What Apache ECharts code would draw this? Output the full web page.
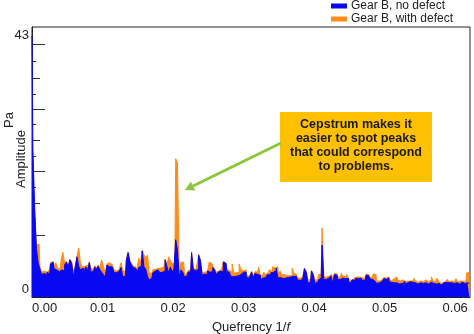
<!DOCTYPE html>
<html>
<head>
<meta charset="utf-8">
<script src="https://cdn.jsdelivr.net/npm/echarts@6/dist/echarts.min.js"></script>
<style>html,body{margin:0;padding:0;background:#fff}#c{width:474px;height:334px}</style>
</head>
<body>
<div id="c"></div>
<script>
// Quefrency bins (s), step 0.00025 starting at 0
const binStep = 0.00025;
// Gear B, no defect (Pa)
const noDefect = [
43,24,14,7,4.6,3.5,2.6,2.8,2.5,3.0,2.7,4.4,4.7,3.6,3.4,3.1,3.3,3.4,3.2,4.2,
4.7,3.9,5.1,4.5,2.2,3.8,5.6,4.0,3.4,3.7,3.2,3.9,3.3,4.6,3.0,3.2,3.9,3.5,4.0,3.4,
3.0,2.6,2.2,4.2,3.9,3.9,3.6,3.0,2.9,3.2,3.1,3.8,2.2,2.4,5.0,6.3,4.8,4.2,3.8,3.6,
2.9,3.8,4.0,6.6,3.9,3.5,2.3,1.7,2.0,2.9,3.2,3.4,3.3,2.9,3.0,3.2,5.1,4.0,2.9,3.9,
3.0,3.6,8.5,6.8,2.2,3.4,3.0,2.2,2.4,3.0,3.1,6.3,3.4,3.3,3.5,5.9,5.0,2.5,2.7,2.6,
3.2,3.0,3.1,3.8,3.4,2.6,3.0,3.2,3.1,4.7,4.5,3.1,3.0,2.4,2.2,2.3,2.5,2.4,2.6,2.9,
3.0,3.0,2.4,1.9,2.3,3.0,2.0,2.8,2.6,2.5,1.7,2.0,2.1,2.3,2.6,2.5,2.9,3.0,3.3,3.7,
2.0,2.1,1.9,1.7,2.0,2.1,2.3,2.2,2.3,2.4,2.3,1.7,1.6,1.8,1.7,3.6,3.0,1.2,1.3,3.2,
2.5,1.1,1.3,1.7,2.0,7.6,1.7,1.8,2.0,2.1,2.4,1.2,2.6,2.5,1.7,1.8,2.0,2.0,1.9,2.0,
1.3,1.3,1.7,1.6,2.0,1.9,2.0,1.8,1.6,1.7,2.5,2.4,1.9,1.8,1.5,1.6,1.1,1.2,1.4,1.5,
1.9,1.8,2.0,1.4,1.3,1.2,1.3,1.2,1.0,1.3,1.1,1.4,1.0,1.2,1.4,1.1,1.3,1.2,1.4,1.0,
1.2,1.3,1.1,1.2,1.3,1.0,1.3,1.4,1.1,1.0,1.3,1.1,0.8,0.9,1.2,1.3,1.2,1.0,1.2,1.1,
1.3,1.2,1.0,1.2,1.3,1.1,1.0,1.2,1.1
];
// Gear B, with defect (Pa)
const withDefect = [
28,20,12,7.5,7.8,4.0,3.0,3.2,3.0,3.3,3.4,4.6,4.8,4.0,4.6,3.6,3.6,5.0,6.4,4.5,
4.9,4.2,5.2,4.7,3.0,4.0,5.7,7.1,4.5,3.9,4.0,4.2,3.7,4.8,3.6,3.5,4.1,3.7,4.2,3.8,
5.1,4.0,2.8,4.4,4.6,4.3,4.3,3.4,3.2,3.5,3.6,4.6,3.3,3.0,5.2,6.4,5.0,4.4,4.0,3.9,
3.3,5.4,4.5,6.7,5.9,5.5,5.9,2.9,2.8,3.4,3.5,3.6,3.6,3.7,3.8,3.4,5.2,4.3,5.6,5.0,
4.4,4.6,22.2,21.5,2.8,4.7,4.7,2.6,2.9,3.3,3.4,6.4,3.6,3.5,4.2,6.0,5.1,2.9,3.0,3.1,
3.4,4.7,4.5,4.0,3.6,3.0,3.2,3.5,3.6,4.8,4.6,3.5,3.3,3.0,4.4,2.8,2.9,3.0,4.4,3.4,
3.2,3.4,2.8,2.3,2.6,3.2,2.4,3.1,3.0,3.9,2.4,2.6,3.0,2.6,2.9,3.4,3.1,3.9,3.7,3.9,
3.0,3.1,2.5,2.6,2.4,2.2,2.4,2.4,3.7,2.8,2.6,2.0,2.0,2.1,1.9,3.7,3.2,1.6,1.9,3.3,
2.8,1.6,1.8,2.6,2.7,10.5,2.2,2.2,2.3,2.4,2.6,1.7,2.8,2.7,2.1,2.3,2.8,2.3,2.2,2.6,
1.8,1.6,1.9,2.1,2.2,2.2,2.2,2.1,1.9,2.0,2.7,2.6,2.2,2.0,2.7,2.6,1.5,1.5,1.7,1.8,
2.1,2.0,2.2,1.7,1.6,1.9,2.1,2.2,1.6,1.5,1.7,1.6,1.4,1.5,1.7,1.5,1.6,2.0,1.6,1.3,
1.5,1.6,1.4,1.7,1.5,1.4,1.7,2.2,1.5,1.4,2.0,1.6,1.1,1.2,1.4,1.5,1.8,1.4,1.5,1.4,
1.6,1.9,1.3,1.5,1.5,1.4,1.3,2.9,2.9
];
const xTicks = [0, 0.01, 0.02, 0.03, 0.04, 0.05, 0.06];
const yLabels = [0, 43];
const yTicksLong = [9.3, 20, 30.6, 41.5];
const yTicksMid = [3.9, 14.7, 25.4, 35.9];
const yTicksShort = [6.6, 12, 17.3, 22.7, 28, 33.2, 38.7];
const seriesNames = ['Gear B, no defect', 'Gear B, with defect'];
const noteLines = ['Cepstrum makes it', 'easier to spot peaks', 'that could correspond', 'to problems.'];

const toPairs = arr => arr.map((v, i) => [+(i * binStep).toFixed(5), v]);
const FONT = 'Liberation Sans, Arial, sans-serif';
const chart = echarts.init(document.getElementById('c'), null, {renderer: 'canvas'});

function yAxisTicks(vals, len) {
  return {
    type: 'value', min: -1.2, max: 44.5, position: 'left', offset: 0,
    splitLine: {show: false},
    axisLine: {show: false},
    axisLabel: {show: false},
    axisTick: {show: true, inside: true, length: len, customValues: vals, lineStyle: {color: '#333', width: 1}}
  };
}

chart.setOption({
  animation: false,
  backgroundColor: '#fff',
  textStyle: {fontFamily: FONT},
  grid: {left: 32, right: 4, top: 27, bottom: 37, show: true, borderColor: '#222', borderWidth: 1,
    backgroundColor: 'transparent', containLabel: false, outerBoundsMode: 'none'},
  legend: {
    data: seriesNames, orient: 'vertical', left: 331, top: 0, padding: 0,
    itemWidth: 16, itemHeight: 5, itemGap: 1, icon: 'rect',
    textStyle: {fontSize: 12, color: '#222', fontFamily: FONT, padding: [0, 0, 0, -1]}
  },
  xAxis: {
    type: 'value', min: 0, max: 0.0621, interval: 0.01,
    name: '{a|Quefrency 1/}{b|f}', nameLocation: 'middle', nameGap: 24, nameMoveOverlap: false,
    nameTextStyle: {rich: {a: {fontSize: 13, color: '#222', fontFamily: FONT}, b: {fontSize: 13, color: '#222', fontStyle: 'italic', fontFamily: FONT}}},
    splitLine: {show: false},
    axisLine: {show: true, onZero: false, lineStyle: {color: '#222'}},
    axisTick: {show: false},
    axisLabel: {
      customValues: xTicks, fontSize: 13, color: '#222', margin: 5, alignMinLabel: 'left',
      formatter: v => v.toFixed(2)
    }
  },
  yAxis: [
    {
      type: 'value', min: -1.2, max: 44.5,
      splitLine: {show: false},
      axisLine: {show: true, lineStyle: {color: '#222'}},
      axisTick: {show: true, inside: true, length: 13, customValues: yTicksLong, lineStyle: {color: '#333'}},
      axisLabel: {customValues: yLabels, fontSize: 13, color: '#222', margin: 3}
    },
    yAxisTicks(yTicksMid, 8),
    yAxisTicks(yTicksShort, 4)
  ],
  series: [
    {
      name: seriesNames[1], type: 'line', step: 'middle', data: toPairs(withDefect),
      showSymbol: false, symbol: 'none', color: '#ff8c1a',
      lineStyle: {width: 1, color: '#ff8c1a'},
      areaStyle: {color: '#ff8c1a', opacity: 1, origin: 'start'}, z: 2
    },
    {
      name: seriesNames[0], type: 'line', step: 'middle', data: toPairs(noDefect),
      showSymbol: false, symbol: 'none', color: '#0808f2',
      lineStyle: {width: 1, color: '#0808f2'},
      areaStyle: {color: '#0808f2', opacity: 1, origin: 'start'}, z: 3
    }
  ],
  graphic: [
    {type: 'text', x: 3, y: 120, rotation: Math.PI / 2, style: {text: 'Pa', fontSize: 13, fill: '#222', fontFamily: FONT, align: 'center', verticalAlign: 'top'}},
    {type: 'text', x: 15, y: 159, rotation: Math.PI / 2, style: {text: 'Amplitude', fontSize: 13, fill: '#222', fontFamily: FONT, align: 'center', verticalAlign: 'top'}},
    {type: 'rect', shape: {x: 280, y: 112, width: 152, height: 70}, style: {fill: '#ffc000'}, z: 10},
    {type: 'text', x: 356, y: 146, z: 11, style: {
      text: noteLines.join('\n'), fontSize: 12.5, fontWeight: 'bold', lineHeight: 14,
      fill: '#1a1a1a', align: 'center', verticalAlign: 'middle', fontFamily: FONT}},
    {type: 'line', shape: {x1: 281, y1: 143, x2: 193, y2: 186}, style: {stroke: '#8cc63f', lineWidth: 3}, z: 10},
    {type: 'polygon', shape: {points: [[185, 190], [190.9, 181.5], [195.3, 190.5]]}, style: {fill: '#8cc63f'}, z: 10}
  ]
});
</script>
</body>
</html>
